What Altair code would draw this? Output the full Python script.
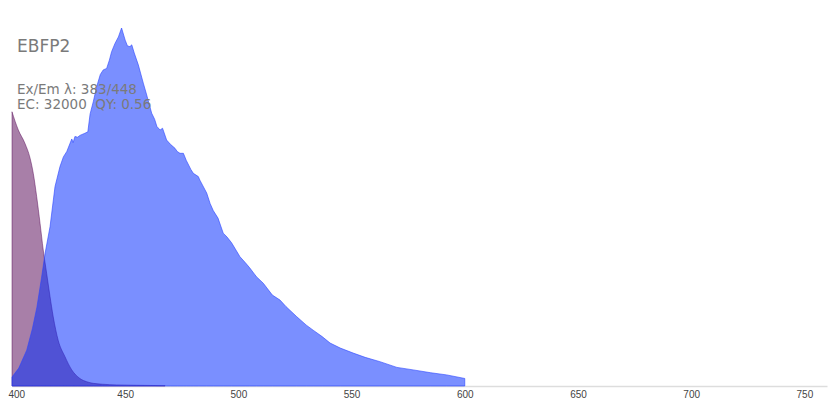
import altair as alt
import pandas as pd

# Excitation spectrum (normalised)
ex_wl = [400, 402.8, 405.7, 408, 409.4, 410.9, 412.4, 413.8, 415.3, 416.8, 418.2,
         420.4, 423.4, 426.4, 430, 433, 435.9, 440, 446.2, 455, 467.6]
ex_val = [0.766, 0.715, 0.678, 0.636, 0.594, 0.529, 0.454, 0.38, 0.315, 0.25, 0.194,
          0.128, 0.082, 0.045, 0.021, 0.012, 0.0075, 0.005, 0.003, 0.002, 0.001]

# Emission spectrum (normalised)
em_wl = [400, 403, 406.5, 409, 411, 413, 414.6, 416.8, 419, 421.2, 422.7, 424.2,
         426.4, 427, 427.8, 429, 430, 432.2, 433.5, 434.5, 435.9, 437.4, 439, 440.3,
         441.8, 443, 444, 445.5, 447, 448.4, 450, 451, 452.1, 452.9, 454, 455.8, 458,
         459.5, 461.7, 463, 464, 465.4, 466.5, 468.3, 470, 472, 473, 474.2, 475.7, 477,
         479, 480.1, 482.3, 483, 486, 487.5, 488.9, 491, 493.3, 495, 497, 500.7, 503,
         505, 508, 511, 515, 518.4, 521, 525.7, 530, 533, 537, 540.5, 545, 550.7, 556,
         562.5, 570, 577.2, 585, 592, 600]
em_val = [0.025, 0.05, 0.10, 0.16, 0.22, 0.30, 0.37, 0.445, 0.557, 0.613, 0.64, 0.655,
          0.69, 0.68, 0.697, 0.695, 0.70, 0.706, 0.71, 0.76, 0.794, 0.836, 0.87, 0.883,
          0.887, 0.91, 0.934, 0.957, 0.975, 1.0, 0.966, 0.95, 0.948, 0.953, 0.93, 0.897,
          0.846, 0.813, 0.762, 0.745, 0.725, 0.715, 0.72, 0.687, 0.675, 0.664, 0.655,
          0.65, 0.65, 0.63, 0.605, 0.594, 0.585, 0.575, 0.539, 0.51, 0.49, 0.469, 0.427,
          0.416, 0.40, 0.361, 0.345, 0.33, 0.305, 0.287, 0.254, 0.24, 0.222, 0.194, 0.17,
          0.156, 0.138, 0.12, 0.106, 0.092, 0.08, 0.068, 0.052, 0.045, 0.037, 0.031, 0.021]

x_ticks = [400, 450, 500, 550, 600, 650, 700, 750]
x_domain = [400, 760]

name_text = ["EBFP2"]
info_line1 = ["Ex/Em λ: 383/448"]
info_line2 = ["EC: 32000\u00a0\u00a0QY: 0.56"]

ex_df = pd.DataFrame({"wl": ex_wl, "v": ex_val})
em_df = pd.DataFrame({"wl": em_wl, "v": em_val})

x_enc = alt.X("wl:Q",
              scale=alt.Scale(domain=x_domain, nice=False, zero=False),
              axis=alt.Axis(values=x_ticks, ticks=False, grid=False, domainColor="#dddddd",
                            domainWidth=1.5, labelColor="#444444", labelFontSize=10,
                            labelPadding=3, labelFlush=True, labelFlushOffset=4,
                            title=None))
y_enc = alt.Y("v:Q", scale=alt.Scale(domain=[0, 1], nice=False), axis=None)

ex_area = alt.Chart(ex_df).mark_area(
    color="#520052", fillOpacity=0.5, stroke="#520052", strokeOpacity=0.45,
    strokeWidth=1, interpolate="monotone"
).encode(x=x_enc, y=y_enc)

em_area = alt.Chart(em_df).mark_area(
    color="#0028ff", fillOpacity=0.52, stroke="#2a44ff", strokeOpacity=0.6,
    strokeWidth=1
).encode(x=x_enc, y=y_enc)

t1 = alt.Chart(pd.DataFrame({"t": name_text})).mark_text(
    align="left", baseline="alphabetic", fontSize=17, font="DejaVu Sans", color="#7a7a7a"
).encode(x=alt.value(5), y=alt.value(24), text="t:N")

t2 = alt.Chart(pd.DataFrame({"t": info_line1})).mark_text(
    align="left", baseline="alphabetic", fontSize=13.5, font="DejaVu Sans", color="#7a7a7a"
).encode(x=alt.value(5), y=alt.value(66), text="t:N")

t3 = alt.Chart(pd.DataFrame({"t": info_line2})).mark_text(
    align="left", baseline="alphabetic", fontSize=13.5, font="DejaVu Sans", color="#7a7a7a"
).encode(x=alt.value(5), y=alt.value(81), text="t:N")

chart = alt.layer(ex_area, em_area, t1, t2, t3).properties(
    width=815, height=358,
    autosize=alt.AutoSizeParams(type="none"),
    padding={"left": 4, "top": 20, "right": 5, "bottom": 20},
).configure_view(stroke=None)

chart.save("out.html", embed_options={"renderer": "svg", "actions": False})
